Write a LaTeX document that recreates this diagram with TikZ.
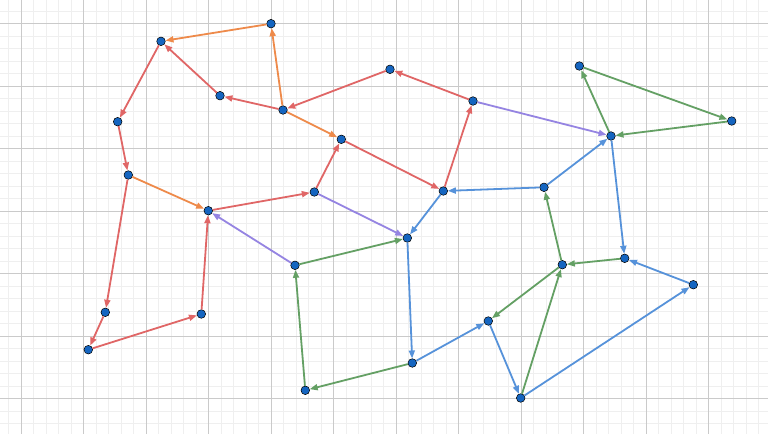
\documentclass[tikz,border=0pt]{standalone}
\usetikzlibrary{arrows.meta}
\definecolor{cred}{HTML}{E06666}
\definecolor{corange}{HTML}{EE8A4A}
\definecolor{cpurple}{HTML}{9584E2}
\definecolor{cblue}{HTML}{5692DA}
\definecolor{cgreen}{HTML}{64A064}
\definecolor{cnode}{HTML}{1565C0}
\definecolor{gmajor}{HTML}{CACACA}
\definecolor{gminor}{HTML}{EFEFEF}
\tikzset{
  pt/.style={circle,draw=black,line width=0.6pt,fill=cnode,minimum size=8.5pt,inner sep=0pt},
  edge/.style={line width=1.8pt,-{Triangle[length=8pt,width=6pt]}},
  minorline/.style={draw=gminor,line width=0.6pt},
  majorline/.style={draw=gmajor,line width=1pt}
}
\begin{document}
\begin{tikzpicture}[x=1pt,y=-1pt]
\useasboundingbox (0,0) rectangle (768,434);
\fill[white] (0,0) rectangle (768,434);
\foreach \i in {0,...,61} \draw[minorline] ({8.5+12.5*\i},0) -- ({8.5+12.5*\i},434);
\foreach \i in {0,...,34} \draw[minorline] (0,{11+12.5*\i}) -- (768,{11+12.5*\i});
\foreach \i in {0,...,12} \draw[majorline] ({21+62.5*\i},0) -- ({21+62.5*\i},434);
\foreach \i in {0,...,6} \draw[majorline] (0,{23.5+62.5*\i}) -- (768,{23.5+62.5*\i});

\node[pt] (A) at (271,23.7) {};
\node[pt] (B) at (161,41.3) {};
\node[pt] (C) at (220,95.7) {};
\node[pt] (D) at (283,110) {};
\node[pt] (E) at (117.7,121.7) {};
\node[pt] (F) at (341.3,139.3) {};
\node[pt] (G) at (128.3,175) {};
\node[pt] (H) at (314.3,192) {};
\node[pt] (I) at (208.3,210.7) {};
\node[pt] (J) at (390,69.3) {};
\node[pt] (K) at (473,101) {};
\node[pt] (L) at (579.3,66) {};
\node[pt] (M) at (731.7,121) {};
\node[pt] (N) at (611,136) {};
\node[pt] (O) at (544,187.3) {};
\node[pt] (P) at (443.3,191) {};
\node[pt] (Q) at (105.3,312.3) {};
\node[pt] (R) at (201.3,314) {};
\node[pt] (S) at (88.3,349.7) {};
\node[pt] (T) at (295,265.3) {};
\node[pt] (U) at (305.3,390.3) {};
\node[pt] (V) at (407.3,238) {};
\node[pt] (W) at (562.3,264.7) {};
\node[pt] (X) at (624.7,258.3) {};
\node[pt] (Y) at (693.3,284.7) {};
\node[pt] (Z) at (488.3,321) {};
\node[pt] (AA) at (412.3,363) {};
\node[pt] (BB) at (520.7,398) {};

% orange
\draw[edge,corange] (A) -- (B);
\draw[edge,corange] (D) -- (A);
\draw[edge,corange] (D) -- (F);
\draw[edge,corange] (G) -- (I);
% red
\draw[edge,cred] (C) -- (B);
\draw[edge,cred] (D) -- (C);
\draw[edge,cred] (B) -- (E);
\draw[edge,cred] (E) -- (G);
\draw[edge,cred] (J) -- (D);
\draw[edge,cred] (K) -- (J);
\draw[edge,cred] (F) -- (P);
\draw[edge,cred] (H) -- (F);
\draw[edge,cred] (I) -- (H);
\draw[edge,cred] (P) -- (K);
\draw[edge,cred] (G) -- (Q);
\draw[edge,cred] (Q) -- (S);
\draw[edge,cred] (S) -- (R);
\draw[edge,cred] (R) -- (I);
% purple
\draw[edge,cpurple] (K) -- (N);
\draw[edge,cpurple] (T) -- (I);
\draw[edge,cpurple] (H) -- (V);
% blue
\draw[edge,cblue] (O) -- (P);
\draw[edge,cblue] (O) -- (N);
\draw[edge,cblue] (P) -- (V);
\draw[edge,cblue] (N) -- (X);
\draw[edge,cblue] (V) -- (AA);
\draw[edge,cblue] (AA) -- (Z);
\draw[edge,cblue] (Z) -- (BB);
\draw[edge,cblue] (BB) -- (Y);
\draw[edge,cblue] (Y) -- (X);
% green
\draw[edge,cgreen] (N) -- (L);
\draw[edge,cgreen] (L) -- (M);
\draw[edge,cgreen] (M) -- (N);
\draw[edge,cgreen] (W) -- (O);
\draw[edge,cgreen] (X) -- (W);
\draw[edge,cgreen] (W) -- (Z);
\draw[edge,cgreen] (BB) -- (W);
\draw[edge,cgreen] (T) -- (V);
\draw[edge,cgreen] (U) -- (T);
\draw[edge,cgreen] (AA) -- (U);

% redraw nodes on top
\foreach \n in {A,B,C,D,E,F,G,H,I,J,K,L,M,N,O,P,Q,R,S,T,U,V,W,X,Y,Z,AA,BB}
  \fill[cnode] (\n.center) circle (3.65pt);
\end{tikzpicture}
\end{document}
